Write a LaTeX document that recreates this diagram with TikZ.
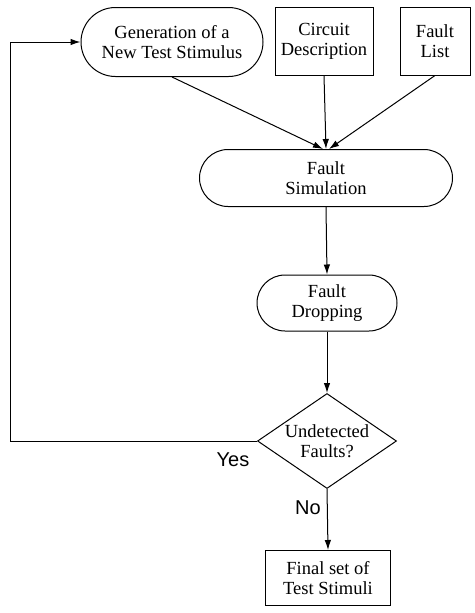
\documentclass[tikz,border=0pt]{standalone}
\usepackage{fontspec}
\setmainfont{Liberation Serif}
\setsansfont{Liberation Sans}
\usetikzlibrary{shapes.misc,shapes.geometric,arrows.meta}
\begin{document}
\begin{tikzpicture}[x=1pt,y=-1pt,
  every node/.style={font=\fontsize{18.5}{20}\selectfont, align=center, inner sep=0pt},
  stadium/.style={rounded rectangle, draw, line width=1pt},
  boxnode/.style={rectangle, draw, line width=1pt},
  decnode/.style={diamond, draw, line width=1pt, aspect=1.46},
  conn/.style={draw, line width=1pt, -{Latex[length=10pt,width=6.5pt]}},
  lab/.style={font=\sffamily\fontsize{20}{22}\selectfont}]
\useasboundingbox (0,0) rectangle (474,613);
\node[stadium, minimum width=182pt, minimum height=69pt] (gen) at (172,42) {Generation of a\\New Test Stimulus};
\node[boxnode, minimum width=98pt, minimum height=68pt] (circ) at (324,41) {Circuit\\Description};
\node[boxnode, minimum width=70pt, minimum height=68pt] (flist) at (435,41) {Fault\\List};
\node[stadium, minimum width=253pt, minimum height=57pt] (sim) at (326,178) {Fault\\Simulation};
\node[stadium, minimum width=140pt, minimum height=56pt] (drop) at (327,303) {Fault\\Dropping};
\node[decnode, minimum width=139pt, minimum height=95pt] (dec) at (327,441) {Undetected\\Faults?};
\node[boxnode, minimum width=125pt, minimum height=55pt] (final) at (328,578) {Final set of\\Test Stimuli};
\coordinate (lp) at (10,441);
\draw[conn] (gen.south) -- ([xshift=-3pt]sim.north);
\draw[conn] (circ.south) -- (sim.north);
\draw[conn] (flist.south) -- ([xshift=3pt]sim.north);
\draw[conn] (sim.south) -- (drop.north);
\draw[conn] (drop.south) -- (dec.north);
\draw[conn] (dec.south) -- (final.north);
\draw[conn] (dec.west) -- (lp) |- (gen.west);
\node[lab] (yes) at (233,460) {Yes};
\node[lab] (no) at (308,508) {No};
\end{tikzpicture}
\end{document}
